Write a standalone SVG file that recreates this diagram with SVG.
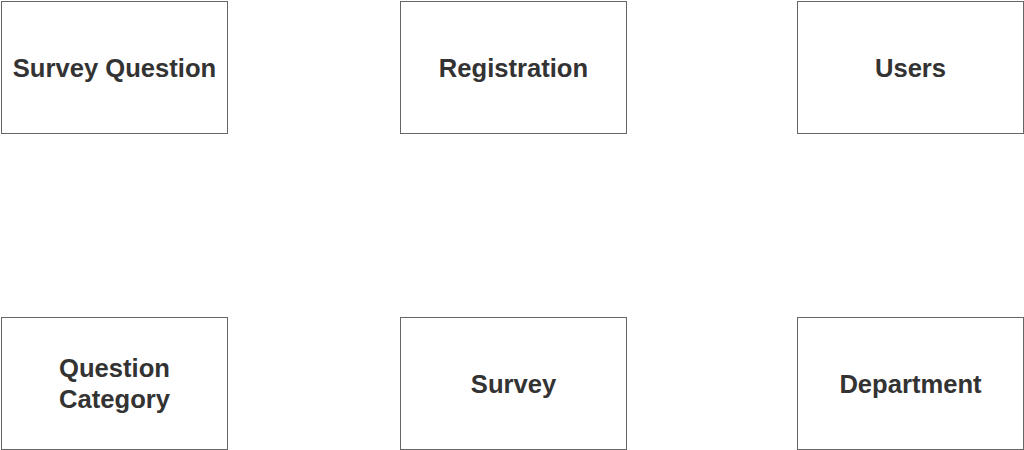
<svg xmlns="http://www.w3.org/2000/svg" width="1024" height="450" viewBox="0 0 1024 450">
<style>
.box{fill:#fff;stroke:#666;stroke-width:1}
.lbl{font-family:"Liberation Sans",Arial,sans-serif;font-weight:bold;font-size:25.6px;fill:#333;text-anchor:middle}
</style>
<rect width="1024" height="450" fill="#fff"/>
<g id="connectors"></g>
<g id="survey-question"><rect class="box" x="1.5" y="1.5" width="226" height="132"/><text class="lbl" x="114.5" y="77">Survey Question</text></g>
<g id="registration"><rect class="box" x="400.5" y="1.5" width="226" height="132"/><text class="lbl" x="513.5" y="77">Registration</text></g>
<g id="users"><rect class="box" x="797.5" y="1.5" width="226" height="132"/><text class="lbl" x="910.5" y="77">Users</text></g>
<g id="question-category"><rect class="box" x="1.5" y="317.5" width="226" height="132"/><text class="lbl" x="114.5" y="377">Question</text><text class="lbl" x="114.5" y="408">Category</text></g>
<g id="survey"><rect class="box" x="400.5" y="317.5" width="226" height="132"/><text class="lbl" x="513.5" y="392.5">Survey</text></g>
<g id="department"><rect class="box" x="797.5" y="317.5" width="226" height="132"/><text class="lbl" x="910.5" y="392.5">Department</text></g>
</svg>
